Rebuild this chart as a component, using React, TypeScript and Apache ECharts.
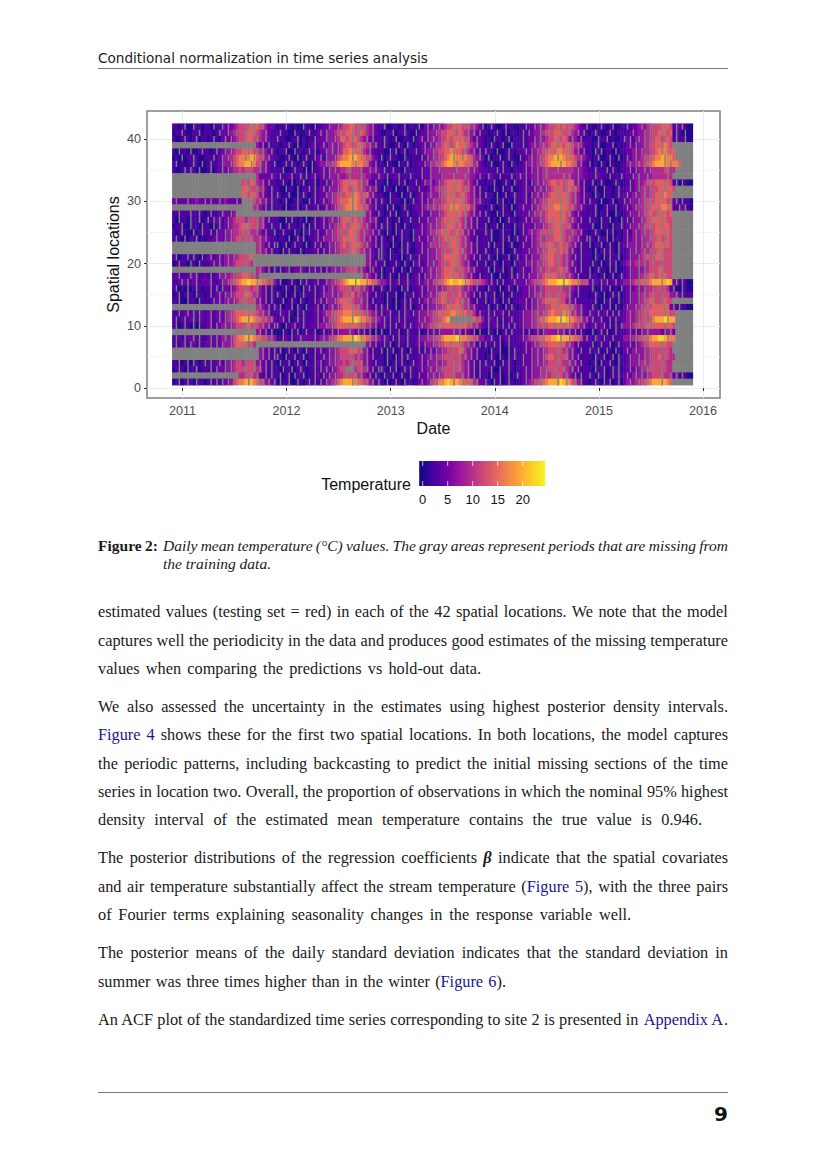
import React, { useEffect, useRef } from "react";
import * as echarts from "echarts";

// Each row: one location (42 at the top, 1 at the bottom). Years are split by |, each year holds 36 ten-day
// readings starting in late November. Digit = temperature level, "." = missing from the training data.
// A run of one or two "." is a short gap: a thin gray streak inside the period. Longer runs are whole missing blocks.
const tempLevels = [0.5, 2.5, 4.5, 7, 9.5, 12, 14, 16.5, 19.5, 22.5];
const firstYearStart = 2010.9;
const locationRows = [
/*42*/"1101.00.1101 10.11.2.2345 55.6.65.3221|011.10100.11 0.1122.33.45 5665.5.43.21|1.001101.011 1.02.2.3.345 56.655.4.32.|01.1001.1100 11.22.3.3455 .6565.54321.|1001.101.001 1.1223.34.55 56.651.2.100",
/*41*/"011.10011.01 1101.22.34.5 5.66.543.211|1.1100.1001. 112.2.3345.5 66.5.6543.21|0011.011.100 .122.33.4556 6.5654.3.2.1|1001.10.0110 1.1.233.45.5 66.55.43.2.1|01.1001.1011 112.233.4.55 6.6561.10.00",
/*40*/"1001.101.011 01.102.2.345 5.665.43.211|.110011.0101 1.222.33.466 56.6543.2.11|1.101.00110. 12.2.3.34.56 566.65.32.21|010.1101.011 1.122.3.3455 6.5653.32.11|100.11.01001 .2.13.3.4.56 65.651.11.00",
/*39*/"............ ............ .....32.1.11|1011.10.0101 2.12.23.3.45 665.6.54.3.1|1.1001.10.10 112.2.3.456. 5.766.543.21|01.101.00.11 1.123.34.456 6.656.54.421|101.0011.010 12.2.33.4556 6.765.......",
/*38*/"10.110.001.1 101.12.3.455 66.65.4.32.1|011.00.1101. 1.022.3.3.46 67.66.43.211|100.1.01.011 .12.33.45566 7.665.43.2.1|.110.001.101 12.2.3.45.66 .7766.53.2.1|10.1.0110.01 1223.3.44.56 7.76.6.......",
/*37*/"010.011.1001 11.12.3.4567 7.78.65.3.21|1001.10.01.1 1.2.1.33.567 78.87.65.321|.01.1100.101 11.2.3.4.567 8.77.76.43.2|0.011.01.100 .123.34.5677 8.87.6654.32|101.001.10.0 1.23.34.5.67 78.776.......",
/*36*/"1.01001.10.0 1.112.33.567 788.75.3.21.|001.1.101.10 .1233.4.5788 887.776.32.1|10.100.11.01 122.3.4.5678 87.7766.4.21|01.001.10.10 12.3.34.5678 88.8776.3.21|.010.10.1001 13.34.45.678 88.7.776.....",
/*35*/"1001.1.10.00 1.012.2.3445 4.5544.3.211|11.001.110.0 .112.2.3.344 5.444.33.3.2|1.11.110.111 11.22.33.444 44.444.3.322|1111.1.11011 12.2.3.34.44 4.444443.322|11.111.1.101 12.2.33.3.44 445.44.......",
/*34*/"............ ............ .....42222.2|1.112.11.1.1 2.12.2.33.33 4.444.43322.|21.112.111.1 11.22.333.44 4.444.4332.2|1.211.111.12 .2.233.34.44 444.4.33.322|11.2111.111. 122.3.33.344 444.4.......",
/*33*/"............ ............ 5.56.43.2.11|01.10.011.01 1.021.2.3456 6.665.4.21.1|10.011.1.011 .12.3.23.456 66.654.32.11|011.001.10.1 12.1.3.3.456 6565.663.2.1|1.01.1001.10 11.23.345.56 66.651.0.100",
/*32*/"............ ............ 66.55.4.21.1|100.110.011. 1.12.2.33.56 65.65.43.3.1|0.110.010.11 1.212.34.5.6 6.665.53.2.1|100.10.11.00 12.22.3.3.45 6.65.65.42.1|01.00.1101.1 12.23.4.4.55 66.665.......",
/*31*/"............ ............ 6.56.53.21.1|.101.00.1.10 1.122.3.45.5 66.765.63.21|100.110.01.0 12.23.33.5.6 .65.6543.2.1|.110.01.01.1 12.1.3.3.456 6.66.54.32.2|10.10.1101.1 2.23.34.4.56 6.766.......",
/*30*/"2.222.22322. 2.22.23222.2 ....54.3.2.1|101.001.100. 1.12.23.4566 67.765.3.2.1|.10.1110.01. 12.2.3.44.56 6.66.543.3.2|1100.1.010.1 12.13.34.56. 66.6.54.32.1|.110.001.011 .2.33.4.5.56 6665.2.1.110",
/*29*/"............ ............ ....4.32.1.1|110.011.01.1 12.12.23.5.6 77.7665.32.1|10.1.001.101 22.3.4.4.56. 7.766.64.211|01.101.10.01 2.22.3.45.66 77.665.43.21|11.001.11.01 2.23.44.5.66 .77.611.2.10",
/*28*/"11.111.11.10 1.112.22.3.. ............|............ ............ .......3.21.|101.1.011.01 12.22.33.456 66.65.43.2.1|.100.1.110.1 122.3.4.4566 66.65.32.211|11.011.00.10 12.33.4.565. 6.656.......",
/*27*/"10.110.11.01 .1.2.12.3455 54.55.4.2.11|100.1.1010.0 1.12.23.3.56 6.565.43.3.1|01.101.011.1 1.22.33.456. 66.54.3.2.11|1.010.01.110 12.2.33.456. 66.654.32.11|.110.11.010. 1.2.33.45.66 6.655.......",
/*26*/"011.00.110.1 10.1.12.3445 6..55.4.21.1|1.01.1101.0. 1.12.2.34.56 5.66.54.32.1|.1.10.10.101 12.23.3.45.6 6.564.3.2.11|.011.0.110.1 1.222.33.45. 66.55.32.211|1.00.110.11. 12.33.4.5.56 6.665.......",
/*25*/"101.100.01.1 1.1.22.3.445 .5.44.32.11.|01.110.10.1. 12.12.3.45.5 .66.54.43.2.|10.10.1.110. 22.23.4.56.6 5.65.3.2.111|.1.001.110.0 1.23.34.55.. 66.544.43.11|01.100.1.010 2.13.34.4.56 66.65.......",
/*24*/"1.10.011.010 112.22.3.45. 5.5.44.3.211|0110.01.1.01 12.2.33.4.56 .66.54.3.2.1|.101.01.110. 2.22.3.4.56. 66.54.321.11|11.001.1.01. 12.2.34.4.55 66.54.43.21.|.10.11.0.110 2.23.3.44.5. 65.65.......",
/*23*/"............ ............ .....4.32.1.|.01.01.110.0 1.2.12.3.456 5.66.54.32.1|.110.10.1.10 22.23.44.55. 66.54.3.2.11|1.0.11.01.00 1.22.34.5.6. 5.65.43.2.11|.011.01.10.1 2.33.3.4.456 66.65.......",
/*22*/"............ ............ .....4.3.2.1|10.1.110.011 12.1.2.3.4.5 5.6.54.3.21.|.10.101.1.00 12.2.33.45.5 .665.43.2.11|.101.1.001.1 122.33.4.566 .565.3.21.11|10.01.1.10.1 12.3.34.4.5. 6.555.......",
/*21*/"1.011.1.10.1 2.12.23.3.45 55.6........|............ ............ .......3.21.|.10.110.01.1 1.22.33.4566 66.54.32.1.1|1.10.011.01. 12.2.33.5.66 5.54.32.1.11|10.10.1.11.0 12.33.45.5.6 6.555.......",
/*20*/"01.110.10.11 12.2.23.3455 5.54........|............ ............ .......3.2.1|1.011.10.10. 2.12.3.345.5 66.543.21.11|.01.10.110.1 22.3.3.4.566 5.54.3.21.11|1.10.01.1.01 23.34.4.45.5 5.555.......",
/*19*/"............ ............ .....4.32.1.|1.12.122.21. 2.2.1.23.3.4 .55.4.32..21|.011.10.10.1 12.23.3.4566 6.5.54.3.211|1.0.11.01.01 2.22.34.45.5 5.65.32.1.11|.01.110.1.00 12.33.3.4555 6.555.......",
/*18*/"12.112.2.112 1.12.3.34.55 66.5.4......|............ ............ ......4.32.1|.01.10.11.01 2.1.3.3.4566 6.65.43.21.1|11.00.101.1. 2.2.33.456.6 65.54.32.111|.1101.01.01. 12.33.4.56.5 6.655.......",
/*17*/"112.2.12.122 2.112.3.5.67 88988.7.65.3|1.001.10.1.1 12.12.34.567 899.988.76.4|332.12.12.11 2.23.3.5.678 98898.765.54|32.1.1.112.2 22.34.5.6788 899.9877.55.|2.21.2.12.12 33.45.6.6788 8.8982.1.100",
/*16*/"1.010.01.101 1.1.1.22.345 5.545.32.1.1|001.10.10.1. 1.12.23.3455 5.45.4.32.11|.10.110.1.01 12.2.33.3.45 .55.43.32.11|0.110.01.10. 122.3.3.4555 55.44.32.111|1.00.11.010. 12.23.3.4455 .5541.00.100",
/*15*/"01.01.10.110 1.12.2.3.455 56.54.32.1.1|.10.01.01.11 1.12.33.3.45 .564.43.21.1|10.11.00.11. 12.23.3.56.5 5.564.32.1.1|.11.01.01.11 122.3.4.45.5 5.554.21.111|01.10.01.1.0 12.33.4.45.5 5.5533.2.111",
/*14*/"11.00.110.11 11.2.23.3.45 ..55.3.2.1.1|01.01.10.101 1.2.2.33.566 6.544.3.1.11|10.10.01.1.1 1.23.34.56.5 .565.4.21.11|.01.10.1.011 22.2.3.456.6 6.553.2.1111|11.00.1.10.1 12.33.4.56.5 5.655.......",
/*13*/"............ ............ .....4.32.1.|1.011.0.10.1 12.1.23.3.56 66.5.43.21.1|.1.10.01.1.0 12.2.33.4.56 .66.54.3.211|1.01.10.1.10 12.2.3.44.56 6.66.5.43.21|1.10.11.0.10 2.33.4.5.566 66.62.1.1100",
/*12*/"11.12.1.1.21 2.12.2.4.566 66.6.54.3.11|1.21.10.1.11 12.23.45.667 77.66.5.43.2|.12.11.1.21. 2.33.4.56.66 77.6.65.42.2|1.1.12.1.111 2.33.4.4.567 66.7.64.3.21|.21.12.1.1.1 23.34.5.5666 66.655.......",
/*11*/"1.12.12.1.21 2.12.2.4.567 88.87.65.4.2|12.1.01.1.11 12.2.3.5.678 88.98.76.4.3|2.1.12.1.111 2.3.34.5.678 ........65.3|1.21.1.12.11 2.33.4.6.788 89.98.765.3.|2.12.11.1.11 23.34.5.5.78 889.88.......",
/*10*/"1.01.10.0.11 2.1.23.3.455 5.65.54.3.2.|.10.12.11.11 22.33.4.5666 6.66.5.4.3.1|2.1.1.12.1.1 23.34.5.6.66 66.6.65.4.32|1.12.1.1.1.1 2.33.4.5.566 .66.6.54.3.2|12.12.1.1.1. 33.45.5.6.66 66.665.......",
/*9*/"............ ............ .....3.2.1.0|00.10.1.01.1 1.01.12.2.33 3.32.2.1.0.0|.00.11.01.11 1.01.2.2.333 3.3.2.21.0.0|0.10.01.1.11 1.1.12.2.333 3.3.2.2.1.10|0.01.1.01.11 12.2.2.3.333 32.3.2.......",
/*8*/"1.21.22.1.11 2.2.23.3.567 78.87.65.4.3|11.21.12.222 2.23.3.5.778 88.98.76.4.3|2.21.1.21.11 2.33.4.5.788 889.77.65.33|12.11.12.111 2.34.5.6.778 89.88.76.52.2|21.21.21.111 33.4.5.6.788 998.77.......",
/*7*/"1.12.1.21.12 2.2.2.33.566 6.5.4.......|............ ............ .......3.2.1|1.1.01.11.11 2.2.33.4.566 .66.54.3.1.1|.11.1.01.111 12.23.4.5566 66.64.32.111|1.01.11.01.1 22.2.34.5666 6.655.......",
/*6*/"............ ............ ......3.2.1.|1.01.10.10.1 1.2.12.3.455 56.65.3.1.11|.0.1.01.10.1 1.1.2.2.3.45 5.56.43.2.11|10.11.00.1.1 12.2.3.3.455 5.54.3.21.11|.11.01.10.10 2.23.33.4.55 5.554.......",
/*5*/"............ ............ ......3.2.1.|.10.11.01.01 1.12.2.3.455 5.54.43.2.11|10.10.1.1.11 12.23.3.4.55 .55.4.3.2.11|01.10.10.1.1 1.22.3.3.566 5.55.3.2.111|10.11.01.0.1 12.33.3.4.55 65.544.......",
/*4*/"11.01.0.101. 1.12.1.3.455 4.55.3.2.1.1|0.11.01.10.1 1.2.12.3.445 45.55.3.21.1|10.01.1.101. 12.2.33.3.45 5.5.43.2.1.1|.11.01.1.101 1.22.3.3.455 5.544.3.2.11|01.0.11.10.1 12.33.4.4.55 5.544.......",
/*3*/"01.10.11.011 1.1.22.3.455 5.55.4.2.1.1|10.11.01.101 1.1.2.2.3455 ...45.4.2.1.|.10.1.01.1.1 12.23.3.4.55 5.5.43.2.1.1|11.00.11.101 12.2.33.4.55 .55.43.2.111|10.11.01.1.0 12.2.3.4.555 5.544.......",
/*2*/"............ ........... 44.5.4.21.1.1|1.01.0.11.01 1.21.2.3.445 .55.4.32.1.1|0.11.01.10.1 1.22.3.3.455 5.44.3.2.1.1|10.11.01.01. 12.2.33.4.45 5.54.32.1.11|.10.1.01.1.1 2.23.3.3.455 5.44.2.1.100",
/*1*/"01.01.10.110 1.1.1.2.3567 78.87.5.3.2.|0.11.00.101. 1.1.2.34.678 88.7.65.3.1.|10.01.10.110 12.23.5.778 98.87.66.4.2|.10.1.01.101 12.34.5.678 88.98.75.3.1|01.10.1.01.0 23.34.5.678 88.876.......",
];
const xTicks = [2011, 2012, 2013, 2014, 2015, 2016];
const yTicks = [0, 10, 20, 30, 40];
const yMinorTicks = [5, 15, 25, 35];
const legendTicks = [0, 5, 10, 15, 20];
const plasma = ["#0d0887", "#46039f", "#7201a8", "#9c179e", "#bd3786", "#d8576b", "#ed7953", "#fb9f3a", "#fdca26", "#f0f921"];
const tempMin = -0.7;
const tempMax = 24.5;
const missingColor = "#808080";

type Seg = { t: string; kind?: "link" | "bold" | "math" | "italic" };
type Line = { x: number; end: number; y: number; segs: Seg[] };
const serif = "'Liberation Serif'";
const bodyLines: Line[] = [
  { x: 98, end: 728, y: 611, segs: [{ t: "estimated values (testing set = red) in each of the 42 spatial locations. We note that the model" }] },
  { x: 98, end: 728, y: 640, segs: [{ t: "captures well the periodicity in the data and produces good estimates of the missing temperature" }] },
  { x: 98, end: 481, y: 668, segs: [{ t: "values when comparing the predictions vs hold-out data." }] },
  { x: 98, end: 728, y: 706, segs: [{ t: "We also assessed the uncertainty in the estimates using highest posterior density intervals." }] },
  { x: 98, end: 728, y: 734, segs: [{ t: "Figure 4", kind: "link" }, { t: " shows these for the first two spatial locations. In both locations, the model captures" }] },
  { x: 98, end: 728, y: 763, segs: [{ t: "the periodic patterns, including backcasting to predict the initial missing sections of the time" }] },
  { x: 98, end: 728, y: 791, segs: [{ t: "series in location two. Overall, the proportion of observations in which the nominal 95% highest" }] },
  { x: 98, end: 702, y: 819, segs: [{ t: "density interval of the estimated mean temperature contains the true value is 0.946." }] },
  { x: 98, end: 728, y: 857, segs: [{ t: "The posterior distributions of the regression coefficients " }, { t: "β", kind: "math" }, { t: " indicate that the spatial covariates" }] },
  { x: 98, end: 728, y: 886, segs: [{ t: "and air temperature substantially affect the stream temperature (" }, { t: "Figure 5", kind: "link" }, { t: "), with the three pairs" }] },
  { x: 98, end: 631, y: 914, segs: [{ t: "of Fourier terms explaining seasonality changes in the response variable well." }] },
  { x: 98, end: 728, y: 952, segs: [{ t: "The posterior means of the daily standard deviation indicates that the standard deviation in" }] },
  { x: 98, end: 506, y: 981, segs: [{ t: "summer was three times higher than in the winter (" }, { t: "Figure 6", kind: "link" }, { t: ")." }] },
  { x: 98, end: 728, y: 1019, segs: [{ t: "An ACF plot of the standardized time series corresponding to site 2 is presented in " }, { t: "Appendix A", kind: "link" }, { t: "." }] },
  { x: 98, end: 158, y: 545, segs: [{ t: "Figure 2:", kind: "bold" }] },
  { x: 163, end: 728, y: 545, segs: [{ t: "Daily mean temperature (°C) values. The gray areas represent periods that are missing from", kind: "italic" }] },
  { x: 163, end: 271, y: 563, segs: [{ t: "the training data.", kind: "italic" }] },
];

const bodySize = "16.3px";
function fontOf(kind?: string) {
  if (kind === "bold") return `bold 15.5px ${serif}`;
  if (kind === "italic") return `italic 15.5px ${serif}`;
  if (kind === "math") return `italic bold ${bodySize} ${serif}`;
  return `${bodySize} ${serif}`;
}

function buildData() {
  const out: (number | null)[][] = [];
  locationRows.forEach((row, i) => {
    const location = 42 - i;
    row.split("|").forEach((yearText, y) => {
      const raw = yearText.replace(/ /g, "");
      const cells = raw.padEnd(36, raw[raw.length - 1]);
      for (let c = 0; c < 36; c++) {
        const digit = parseInt(cells[c], 10);
        const x = firstYearStart + y + c / 36;
        if (!Number.isNaN(digit)) {
          out.push([x, location, tempLevels[digit], 0]);
          continue;
        }
        let from = c;
        while (from > 0 && cells[from - 1] === ".") from--;
        let to = c;
        while (to < 35 && cells[to + 1] === ".") to++;
        if (to - from + 1 >= 3) {
          out.push([x, location, null, 0]);
        } else {
          // a short gap keeps the level read beside it, with the gray streak drawn over it
          const near = from > 0 ? cells[from - 1] : to < 35 ? cells[to + 1] : "1";
          out.push([x, location, tempLevels[parseInt(near, 10)], 1]);
        }
      }
    });
  });
  return out;
}

function buildPageText(spacing: Map<string, number>) {
  const ctx = document.createElement("canvas").getContext("2d")!;
  const els: any[] = [];
  const place = (line: Line) => {
    let natural = 0;
    let spaces = 0;
    const widths = line.segs.map((s) => {
      ctx.font = fontOf(s.kind);
      const w = ctx.measureText(s.t).width;
      natural += w;
      spaces += (s.t.match(/ /g) || []).length;
      return w;
    });
    const extra = spaces ? (line.end - line.x - natural) / spaces : 0;
    let cursor = line.x;
    line.segs.forEach((s, i) => {
      ctx.font = fontOf(s.kind);
      const spaceW = ctx.measureText(" ").width + extra;
      const lead = s.t.length - s.t.trimStart().length;
      const trail = s.t.length - s.t.trimEnd().length;
      const inner = s.t.trim();
      const innerSpaces = (inner.match(/ /g) || []).length;
      if (innerSpaces) spacing.set(inner, extra);
      els.push({
        type: "text",
        x: cursor + lead * spaceW,
        y: line.y,
        silent: true,
        style: {
          text: inner,
          font: fontOf(s.kind),
          fill: s.kind === "link" ? "#17178c" : "#1a1a1a",
          verticalAlign: "middle",
          align: "left",
        },
      });
      cursor += widths[i] + (lead + trail + innerSpaces) * extra;
    });
  };
  bodyLines.forEach(place);
  return els;
}

export default function App() {
  const ref = useRef<HTMLDivElement>(null);
  useEffect(() => {
    const chart = echarts.init(ref.current!, undefined, { renderer: "svg" });
    const spacing = new Map<string, number>();
    const header = "Conditional normalization in time series analysis";
    const legendX = (t: number) => 422.7 + t * 5;
    const sans = "'Liberation Sans'";
    const stops = plasma.map((color, i) => ({ offset: i / (plasma.length - 1), color }));
    const graphics: any[] = [
      { type: "text", x: 98, y: 58, silent: true, style: { text: header, font: "13.6px 'DejaVu Sans'", fill: "#222", verticalAlign: "middle" } },
      { type: "line", silent: true, shape: { x1: 98, y1: 68.5, x2: 728, y2: 68.5 }, style: { stroke: "#777", lineWidth: 1 } },
      { type: "line", silent: true, shape: { x1: 98, y1: 1092.5, x2: 728, y2: 1092.5 }, style: { stroke: "#777", lineWidth: 1 } },
      { type: "text", x: 728, y: 1114, silent: true, style: { text: "9", font: "bold 20px 'DejaVu Sans'", fill: "#111", align: "right", verticalAlign: "middle" } },
      { type: "text", x: 411, y: 484.5, silent: true, style: { text: "Temperature", font: `16px ${sans}`, fill: "#111", align: "right", verticalAlign: "middle" } },
      { type: "rect", silent: true, shape: { x: legendX(tempMin), y: 461, width: legendX(tempMax) - legendX(tempMin), height: 25 },
        style: { fill: new echarts.graphic.LinearGradient(0, 0, 1, 0, stops) } },
      ...legendTicks.flatMap((t) => [
        { type: "line", silent: true, z: 10, shape: { x1: legendX(t), y1: 461, x2: legendX(t), y2: 466 }, style: { stroke: "#fff", lineWidth: 0.7 } },
        { type: "line", silent: true, z: 10, shape: { x1: legendX(t), y1: 481, x2: legendX(t), y2: 486 }, style: { stroke: "#fff", lineWidth: 0.7 } },
        { type: "text", x: legendX(t), y: 499, silent: true, style: { text: String(t), font: `13px ${sans}`, fill: "#111", align: "center", verticalAlign: "middle" } },
      ]),
      ...buildPageText(spacing),
    ];
    chart.setOption({
      animation: false,
      grid: { left: 147, top: 111, width: 573, height: 287, show: true, borderColor: "#7f7f7f", borderWidth: 1.5, backgroundColor: "#fff" },
      xAxis: {
        type: "value", min: 2010.659, max: 2016.163,
        name: "Date", nameLocation: "middle", nameGap: 22,
        nameTextStyle: { fontFamily: sans, fontSize: 16, color: "#111" },
        axisLine: { show: false },
        axisTick: { show: true, length: 3, customValues: xTicks, lineStyle: { color: "#333", width: 1 } },
        axisLabel: { customValues: xTicks, formatter: (v: number) => String(v), fontFamily: sans, fontSize: 12.6, color: "#4d4d4d", margin: 6, showMinLabel: true, showMaxLabel: true },
        splitLine: { show: true, lineStyle: { color: "#ebebeb", width: 1 } },
      },
      yAxis: {
        type: "value", min: -1.606, max: 44.5,
        name: "Spatial locations", nameLocation: "middle", nameGap: 26, nameMoveOverlap: false,
        nameTextStyle: { fontFamily: sans, fontSize: 16, color: "#111" },
        axisLine: { show: false },
        axisTick: { show: true, length: 3, customValues: yTicks, lineStyle: { color: "#333", width: 1 } },
        axisLabel: { customValues: yTicks, formatter: (v: number) => String(v), fontFamily: sans, fontSize: 12.6, color: "#4d4d4d", margin: 6 },
        splitLine: { show: true, lineStyle: { color: "#ebebeb", width: 1 } },
      },
      series: [
        {
          type: "custom", silent: true, z: 1, clip: true, data: yMinorTicks.map((v) => [v]),
          encode: { y: 0 },
          renderItem: (params: any, api: any) => {
            const c = api.coord([2010.659, api.value(0)]);
            const d = api.coord([2016.163, api.value(0)]);
            return { type: "line", shape: { x1: c[0], y1: c[1], x2: d[0], y2: d[1] }, style: { stroke: "#f2f2f2", lineWidth: 0.8 } };
          },
        },
        {
          type: "custom", silent: true, z: 2, progressive: 0, clip: false,
          dimensions: ["date", "location", "temperature", "streak"],
          encode: { x: 0, y: 1 },
          data: buildData(),
          renderItem: (params: any, api: any) => {
            const x = api.value(0);
            const r = api.value(1);
            const t = api.value(2);
            const a = api.coord([x, r + 0.5]);
            const b = api.coord([x + 1 / 36, r - 0.5]);
            const fill = Number.isNaN(t) ? missingColor : echarts.color.lerp((t - tempMin) / (tempMax - tempMin), plasma);
            const w = b[0] - a[0];
            const h = b[1] - a[1];
            const cell = { type: "rect", shape: { x: a[0], y: a[1], width: w + 0.5, height: h + 0.5 }, style: { fill } };
            if (!api.value(3)) return cell;
            return {
              type: "group",
              children: [
                cell,
                { type: "rect", shape: { x: a[0] + w * 0.25, y: a[1], width: w * 0.5, height: h + 0.5 }, style: { fill: missingColor } },
              ],
            };
          },
        },
      ],
      graphic: { elements: graphics },
    });
    // The page's justified lines: widen their word gaps so each ends where its line ends.
    const texts = ref.current!.querySelectorAll("text");
    texts.forEach((el) => {
      const extra = spacing.get(el.textContent || "");
      if (extra !== undefined) (el as SVGTextElement).style.wordSpacing = `${extra}px`;
    });
    return () => chart.dispose();
  }, []);
  return <div ref={ref} style={{ position: "absolute", left: 0, top: 0, width: 827, height: 1169, background: "#fff" }} />;
}
